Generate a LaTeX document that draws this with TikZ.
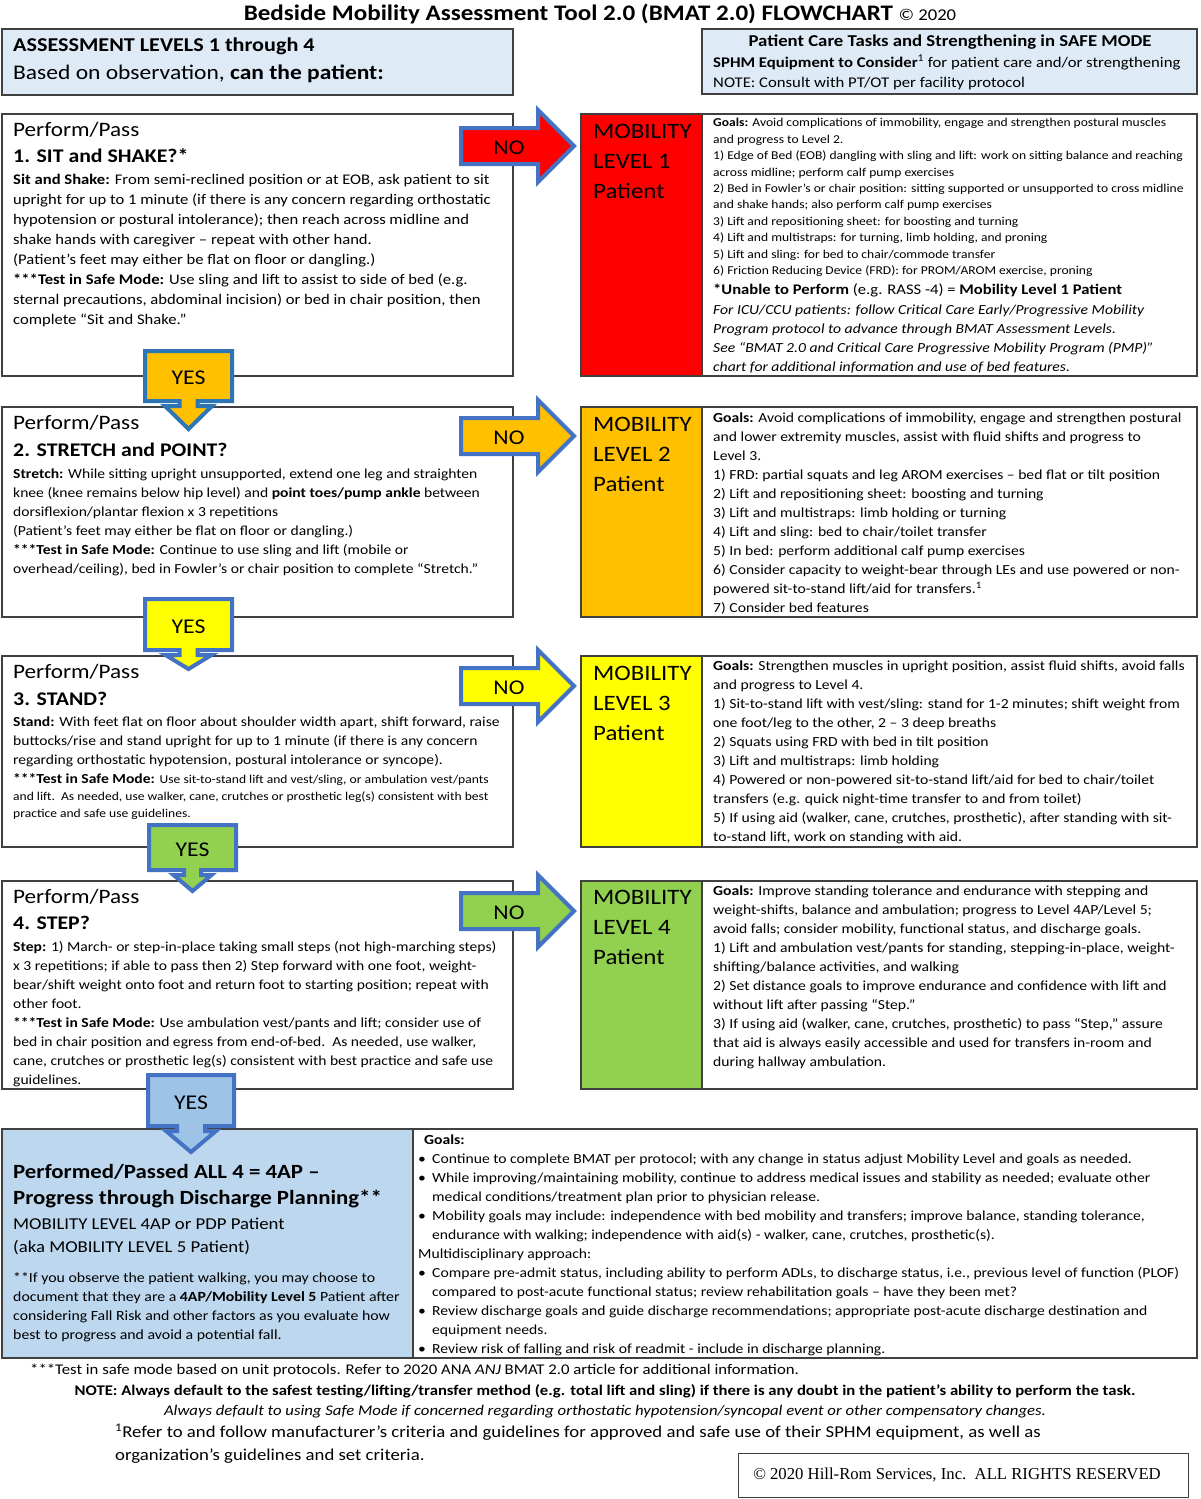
\documentclass[tikz,border=0pt]{standalone}
\usepackage{fontspec}
\setmainfont{Carlito}[FakeStretch=1.13]
\newfontfamily\timesfont{Liberation Serif}
\newcommand\fsz[2]{\fontsize{#1}{#2}\selectfont}
\newcommand\bul{\makebox[14pt][l]{•}}
\newcommand\cont{\hspace*{14pt}}
\definecolor{boxline}{HTML}{404040}
\definecolor{lightblue}{HTML}{DEEBF7}
\definecolor{midblue}{HTML}{BDD7EE}
\definecolor{yesblue}{HTML}{9DC3E6}
\definecolor{arrowblue}{HTML}{4472C4}
\definecolor{arrowblueB}{HTML}{2E75B6}
\definecolor{lvred}{HTML}{FF0000}
\definecolor{lvorange}{HTML}{FFC000}
\definecolor{lvyellow}{HTML}{FFFF00}
\definecolor{lvgreen}{HTML}{92D050}
\tikzset{
  boxstyle/.style={draw=boxline, line width=1.3pt},
  arrowline/.style={draw=arrowblue, line width=4pt, line join=miter},
  txt/.style={anchor=north west, inner sep=0pt, align=left},
  btxt/.style={anchor=base west, inner sep=0pt},
  lvtxt/.style={txt, font=\fsz{22}{30}},
}
\newcommand\NOarrow[3]{%
  \draw[arrowline, fill=#3] (461,#2-18) -- (538,#2-18) -- (538,#2-36) -- (574,#2) -- (538,#2+36) -- (538,#2+18) -- (461,#2+18) -- cycle;
  \node[font=\fsz{21}{24}, inner sep=0pt] (#1) at (509,#2+2) {NO};}
\newcommand\YESarrow[9]{%
  \pgfmathsetmacro\yesmid{(#2+#3)/2}%
  \draw[arrowline, #9] (#2,#4) -- (#3,#4) -- (#3,#5) -- (\yesmid+#6,#5) -- (\yesmid+#6,#5+5) -- (\yesmid+#7,#5+5) -- (\yesmid,#8) -- (\yesmid-#7,#5+5) -- (\yesmid-#6,#5+5) -- (\yesmid-#6,#5) -- (#2,#5) -- cycle;
  \node[font=\fsz{21}{24}, inner sep=0pt] (#1) at (\yesmid,{(#4+#5)/2+2}) {YES};}
\begin{document}
\begin{tikzpicture}[x=1pt,y=-1pt]
\useasboundingbox[fill=white] (0,0) rectangle (1200,1499);

% title
\node[anchor=base, inner sep=0pt] (title) at (600,20) {\fsz{22.2}{26}\textbf{Bedside Mobility Assessment Tool 2.0 (BMAT 2.0) FLOWCHART} {\fsz{16.5}{20}© 2020}};

% header boxes
\draw[boxstyle, fill=lightblue] (2,29) rectangle (513,95);
\node[btxt, font=\fsz{19.6}{24}\bfseries] (hl1) at (13,51) {ASSESSMENT LEVELS 1 through 4};
\node[btxt, font=\fsz{20.8}{24}] (hl2) at (13,79.5) {Based on observation, \textbf{can the patient:}};
\draw[boxstyle, fill=lightblue] (702,29) rectangle (1197,94);
\node[anchor=base, inner sep=0pt, font=\fsz{16.6}{19}\bfseries] (hr1) at (950,46) {Patient Care Tasks and Strengthening in SAFE MODE};
\node[btxt, font=\fsz{14.8}{17}] (hr2) at (713,67) {\textbf{SPHM Equipment to Consider}\textsuperscript{1} for patient care and/or strengthening};
\node[btxt, font=\fsz{14.8}{17}] (hr3) at (713,87) {NOTE: Consult with PT/OT per facility protocol};

% assessment boxes
\draw[boxstyle] (2,114) rectangle (513,376);
\draw[boxstyle] (2,407) rectangle (513,617);
\draw[boxstyle] (2,656) rectangle (513,847);
\draw[boxstyle] (2,881) rectangle (513,1089);

% level boxes
\draw[boxstyle, fill=lvred] (581,114) rectangle (702,376);
\draw[boxstyle] (702,114) rectangle (1197,376);
\draw[boxstyle, fill=lvorange] (581,407) rectangle (702,617);
\draw[boxstyle] (702,407) rectangle (1197,617);
\draw[boxstyle, fill=lvyellow] (581,656) rectangle (702,847);
\draw[boxstyle] (702,656) rectangle (1197,847);
\draw[boxstyle, fill=lvgreen] (581,881) rectangle (702,1089);
\draw[boxstyle] (702,881) rectangle (1197,1089);

% bottom box
\draw[boxstyle, fill=midblue] (2,1129) rectangle (413,1358);
\draw[boxstyle] (413,1129) rectangle (1197,1358);

% ---- Box 1 text
\node[btxt, font=\fsz{20.5}{24}] (p1a) at (13,136.2) {Perform/Pass};
\node[btxt, font=\fsz{19.3}{24}\bfseries] (p1b) at (13,162.5) {1. SIT and SHAKE?*};
\node[txt, font=\fsz{14.7}{20.1}] (p1c) at (13,169.9) {\strut\textbf{Sit and Shake:} From semi-reclined position or at EOB, ask patient to sit\\
upright for up to 1 minute (if there is any concern regarding orthostatic\\
hypotension or postural intolerance); then reach across midline and\\
shake hands with caregiver – repeat with other hand.\\
(Patient’s feet may either be flat on floor or dangling.)\\
\textbf{***Test in Safe Mode:} Use sling and lift to assist to side of bed (e.g.\\
sternal precautions, abdominal incision) or bed in chair position, then\\
complete “Sit and Shake.”};

% ---- Box 2 text
\node[btxt, font=\fsz{20.5}{24}] (p2a) at (13,429.5) {Perform/Pass};
\node[btxt, font=\fsz{19.3}{24}\bfseries] (p2b) at (13,456.5) {2. STRETCH and POINT?};
\node[txt, font=\fsz{13.8}{19}] (p2c) at (13,464.6) {\strut\textbf{Stretch:} While sitting upright unsupported, extend one leg and straighten\\
knee (knee remains below hip level) and \textbf{point toes/pump ankle} between\\
dorsiflexion/plantar flexion x 3 repetitions\\
(Patient’s feet may either be flat on floor or dangling.)\\
\textbf{***Test in Safe Mode:} Continue to use sling and lift (mobile or\\
overhead/ceiling), bed in Fowler’s or chair position to complete “Stretch.”};

% ---- Box 3 text
\node[btxt, font=\fsz{20.5}{24}] (p3a) at (13,678.5) {Perform/Pass};
\node[btxt, font=\fsz{19.3}{24}\bfseries] (p3b) at (13,705.5) {3. STAND?};
\node[txt, font=\fsz{13.8}{19}] (p3c) at (13,713) {\strut\textbf{Stand:} With feet flat on floor about shoulder width apart, shift forward, raise\\
buttocks/rise and stand upright for up to 1 minute (if there is any concern\\
regarding orthostatic hypotension, postural intolerance or syncope).\\
\textbf{***Test in Safe Mode:} {\fsz{12}{19}Use sit-to-stand lift and vest/sling, or ambulation vest/pants}};
\node[txt, font=\fsz{12}{16.5}] (p3d) at (13,789) {\strut and lift.\ \ As needed, use walker, cane, crutches or prosthetic leg(s) consistent with best\\
practice and safe use guidelines.};

% ---- Box 4 text
\node[btxt, font=\fsz{20.5}{24}] (p4a) at (13,903.5) {Perform/Pass};
\node[btxt, font=\fsz{19.3}{24}\bfseries] (p4b) at (13,929.5) {4. STEP?};
\node[txt, font=\fsz{13.8}{19}] (p4c) at (13,937.8) {\strut\textbf{Step:} 1) March- or step-in-place taking small steps (not high-marching steps)\\
x 3 repetitions; if able to pass then 2) Step forward with one foot, weight-\\
bear/shift weight onto foot and return foot to starting position; repeat with\\
other foot.\\
\textbf{***Test in Safe Mode:} Use ambulation vest/pants and lift; consider use of\\
bed in chair position and egress from end-of-bed.\ \ As needed, use walker,\\
cane, crutches or prosthetic leg(s) consistent with best practice and safe use\\
guidelines.};

% ---- Level labels
\node[lvtxt] (lv1) at (593,117) {\strut MOBILITY\\LEVEL 1\\Patient};
\node[lvtxt] (lv2) at (593,410) {\strut MOBILITY\\LEVEL 2\\Patient};
\node[lvtxt] (lv3) at (593,659) {\strut MOBILITY\\LEVEL 3\\Patient};
\node[lvtxt] (lv4) at (593,883) {\strut MOBILITY\\LEVEL 4\\Patient};

% ---- Level 1 goals
\node[txt, font=\fsz{12}{16.45}] (g1a) at (713,115) {\strut\textbf{Goals:} Avoid complications of immobility, engage and strengthen postural muscles\\
and progress to Level 2.\\
1) Edge of Bed (EOB) dangling with sling and lift: work on sitting balance and reaching\\
across midline; perform calf pump exercises\\
2) Bed in Fowler’s or chair position: sitting supported or unsupported to cross midline\\
and shake hands; also perform calf pump exercises\\
3) Lift and repositioning sheet: for boosting and turning\\
4) Lift and multistraps: for turning, limb holding, and proning\\
5) Lift and sling: for bed to chair/commode transfer\\
6) Friction Reducing Device (FRD): for PROM/AROM exercise, proning};
\node[btxt, font=\fsz{14.7}{18}] (g1b) at (713,294.7) {\textbf{*Unable to Perform} (e.g. RASS -4) = \textbf{Mobility Level 1 Patient}};
\node[txt, font=\fsz{13.85}{19}\itshape] (g1c) at (713,300.9) {\strut For ICU/CCU patients: follow Critical Care Early/Progressive Mobility\\
Program protocol to advance through BMAT Assessment Levels.\\
See “BMAT 2.0 and Critical Care Progressive Mobility Program (PMP)”\\
chart for additional information and use of bed features.};

% ---- Level 2 goals
\node[txt, font=\fsz{13.85}{19}] (g2) at (713,408.8) {\strut\textbf{Goals:} Avoid complications of immobility, engage and strengthen postural\\
and lower extremity muscles, assist with fluid shifts and progress to\\
Level 3.\\
1) FRD: partial squats and leg AROM exercises – bed flat or tilt position\\
2) Lift and repositioning sheet: boosting and turning\\
3) Lift and multistraps: limb holding or turning\\
4) Lift and sling: bed to chair/toilet transfer\\
5) In bed: perform additional calf pump exercises\\
6) Consider capacity to weight-bear through LEs and use powered or non-\\
powered sit-to-stand lift/aid for transfers.\textsuperscript{1}\\
7) Consider bed features};

% ---- Level 3 goals
\node[txt, font=\fsz{13.85}{19}] (g3) at (713,656.8) {\strut\textbf{Goals:} Strengthen muscles in upright position, assist fluid shifts, avoid falls\\
and progress to Level 4.\\
1) Sit-to-stand lift with vest/sling: stand for 1-2 minutes; shift weight from\\
one foot/leg to the other, 2 – 3 deep breaths\\
2) Squats using FRD with bed in tilt position\\
3) Lift and multistraps: limb holding\\
4) Powered or non-powered sit-to-stand lift/aid for bed to chair/toilet\\
transfers (e.g. quick night-time transfer to and from toilet)\\
5) If using aid (walker, cane, crutches, prosthetic), after standing with sit-\\
to-stand lift, work on standing with aid.};

% ---- Level 4 goals
\node[txt, font=\fsz{13.85}{19}] (g4) at (713,881.8) {\strut\textbf{Goals:} Improve standing tolerance and endurance with stepping and\\
weight-shifts, balance and ambulation; progress to Level 4AP/Level 5;\\
avoid falls; consider mobility, functional status, and discharge goals.\\
1) Lift and ambulation vest/pants for standing, stepping-in-place, weight-\\
shifting/balance activities, and walking\\
2) Set distance goals to improve endurance and confidence with lift and\\
without lift after passing “Step.”\\
3) If using aid (walker, cane, crutches, prosthetic) to pass “Step,” assure\\
that aid is always easily accessible and used for transfers in-room and\\
during hallway ambulation.};

% ---- Bottom left
\node[txt, font=\fsz{20.2}{26}\bfseries] (b1) at (13,1160.5) {\strut Performed/Passed ALL 4 = 4AP –\\
Progress through Discharge Planning**};
\node[txt, font=\fsz{16.6}{23}] (b2) at (13,1213) {\strut MOBILITY LEVEL 4AP or PDP Patient\\
(aka MOBILITY LEVEL 5 Patient)};
\node[txt, font=\fsz{14}{19}] (b3) at (13,1269) {\strut**If you observe the patient walking, you may choose to\\
document that they are a \textbf{4AP/Mobility Level 5} Patient after\\
considering Fall Risk and other factors as you evaluate how\\
best to progress and avoid a potential fall.};

% ---- Bottom right
\node[txt, font=\fsz{13.85}{19}] (b4) at (418,1130.8) {\strut\hspace*{6pt}\textbf{Goals:}\\
\bul Continue to complete BMAT per protocol; with any change in status adjust Mobility Level and goals as needed.\\
\bul While improving/maintaining mobility, continue to address medical issues and stability as needed; evaluate other\\
\cont medical conditions/treatment plan prior to physician release.\\
\bul Mobility goals may include: independence with bed mobility and transfers; improve balance, standing tolerance,\\
\cont endurance with walking; independence with aid(s) - walker, cane, crutches, prosthetic(s).\\
Multidisciplinary approach:\\
\bul Compare pre-admit status, including ability to perform ADLs, to discharge status, i.e., previous level of function (PLOF)\\
\cont compared to post-acute functional status; review rehabilitation goals – have they been met?\\
\bul Review discharge goals and guide discharge recommendations; appropriate post-acute discharge destination and\\
\cont equipment needs.\\
\bul Review risk of falling and risk of readmit - include in discharge planning.};

% ---- arrows
\NOarrow{no1}{146}{lvred}
\NOarrow{no2}{436}{lvorange}
\NOarrow{no3}{686}{lvyellow}
\NOarrow{no4}{911}{lvgreen}
\YESarrow{yes1}{145}{232}{351}{401}{9}{23.5}{429}{fill=lvorange, draw=arrowblueB}
\YESarrow{yes2}{145}{232}{599}{650}{9}{23}{669}{fill=lvyellow}
\YESarrow{yes3}{149}{236}{825}{870}{8.5}{19}{891}{fill=lvgreen}
\YESarrow{yes4}{148}{234}{1075}{1126}{14}{25}{1152}{fill=yesblue}

% ---- footer
\node[btxt, font=\fsz{14.8}{17}] (f1) at (30,1374.5) {***Test in safe mode based on unit protocols. Refer to 2020 ANA \textit{ANJ} BMAT 2.0 article for additional information.};
\node[anchor=base, inner sep=0pt, font=\fsz{14.75}{18}\bfseries] (f2) at (605,1395) {NOTE: Always default to the safest testing/lifting/transfer method (e.g. total lift and sling) if there is any doubt in the patient’s ability to perform the task.};
\node[anchor=base, inner sep=0pt, font=\fsz{14.8}{18}\itshape] (f3) at (605,1415) {Always default to using Safe Mode if concerned regarding orthostatic hypotension/syncopal event or other compensatory changes.};
\node[txt, font=\fsz{16.6}{23}] (f4) at (115,1421.5) {\strut\textsuperscript{1}Refer to and follow manufacturer’s criteria and guidelines for approved and safe use of their SPHM equipment, as well as\\
organization’s guidelines and set criteria.};
\draw[boxstyle, line width=1pt] (738,1453) rectangle (1188,1497);
\node[inner sep=0pt, font=\timesfont\fsz{16.7}{19}] (copy) at (957,1475) {© 2020 Hill-Rom Services, Inc.\ \ ALL RIGHTS RESERVED};
\end{tikzpicture}
\end{document}
